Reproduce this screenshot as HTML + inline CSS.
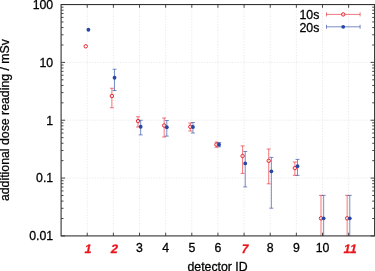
<!DOCTYPE html>
<html lang="en"><head><meta charset="utf-8"><title>additional dose reading per detector</title>
<style>html,body{margin:0;padding:0;background:#fff;overflow:hidden}body{width:375px;height:271px}</style></head>
<body>
<svg width="375" height="271" viewBox="0 0 375 271" style="display:block">
<rect width="375" height="271" fill="#fff"/>
<path d="M87.24 4.55 V235.91 M113.38 4.55 V235.91 M139.52 4.55 V235.91 M165.66 4.55 V235.91 M191.80 4.55 V235.91 M217.94 4.55 V235.91 M244.08 4.55 V235.91 M270.22 4.55 V235.91 M296.36 4.55 V235.91 M322.50 4.55 V235.91 M348.64 4.55 V235.91 M61.1 62.39 H374.60 M61.1 120.23 H374.60 M61.1 178.07 H374.60" stroke="#d4d4d4" stroke-width="0.5" stroke-dasharray="1.3 1.5" fill="none"/>
<path d="M87.24 235.91 v-3.2 M87.24 4.55 v3.2 M113.38 235.91 v-3.2 M113.38 4.55 v3.2 M139.52 235.91 v-3.2 M139.52 4.55 v3.2 M165.66 235.91 v-3.2 M165.66 4.55 v3.2 M191.80 235.91 v-3.2 M191.80 4.55 v3.2 M217.94 235.91 v-3.2 M217.94 4.55 v3.2 M244.08 235.91 v-3.2 M244.08 4.55 v3.2 M270.22 235.91 v-3.2 M270.22 4.55 v3.2 M296.36 235.91 v-3.2 M296.36 4.55 v3.2 M322.50 235.91 v-3.2 M322.50 4.55 v3.2 M348.64 235.91 v-3.2 M348.64 4.55 v3.2 M61.1 4.55 h4 M374.60 4.55 h-4 M61.1 62.39 h4 M374.60 62.39 h-4 M61.1 120.23 h4 M374.60 120.23 h-4 M61.1 178.07 h4 M374.60 178.07 h-4 M61.1 235.91 h4 M374.60 235.91 h-4 M61.1 218.50 h2.4 M374.60 218.50 h-2.4 M61.1 208.31 h2.4 M374.60 208.31 h-2.4 M61.1 201.09 h2.4 M374.60 201.09 h-2.4 M61.1 195.48 h2.4 M374.60 195.48 h-2.4 M61.1 190.90 h2.4 M374.60 190.90 h-2.4 M61.1 187.03 h2.4 M374.60 187.03 h-2.4 M61.1 183.68 h2.4 M374.60 183.68 h-2.4 M61.1 180.72 h2.4 M374.60 180.72 h-2.4 M61.1 160.66 h2.4 M374.60 160.66 h-2.4 M61.1 150.47 h2.4 M374.60 150.47 h-2.4 M61.1 143.25 h2.4 M374.60 143.25 h-2.4 M61.1 137.64 h2.4 M374.60 137.64 h-2.4 M61.1 133.06 h2.4 M374.60 133.06 h-2.4 M61.1 129.19 h2.4 M374.60 129.19 h-2.4 M61.1 125.84 h2.4 M374.60 125.84 h-2.4 M61.1 122.88 h2.4 M374.60 122.88 h-2.4 M61.1 102.82 h2.4 M374.60 102.82 h-2.4 M61.1 92.63 h2.4 M374.60 92.63 h-2.4 M61.1 85.41 h2.4 M374.60 85.41 h-2.4 M61.1 79.80 h2.4 M374.60 79.80 h-2.4 M61.1 75.22 h2.4 M374.60 75.22 h-2.4 M61.1 71.35 h2.4 M374.60 71.35 h-2.4 M61.1 68.00 h2.4 M374.60 68.00 h-2.4 M61.1 65.04 h2.4 M374.60 65.04 h-2.4 M61.1 44.98 h2.4 M374.60 44.98 h-2.4 M61.1 34.79 h2.4 M374.60 34.79 h-2.4 M61.1 27.57 h2.4 M374.60 27.57 h-2.4 M61.1 21.96 h2.4 M374.60 21.96 h-2.4 M61.1 17.38 h2.4 M374.60 17.38 h-2.4 M61.1 13.51 h2.4 M374.60 13.51 h-2.4 M61.1 10.16 h2.4 M374.60 10.16 h-2.4 M61.1 7.20 h2.4 M374.60 7.20 h-2.4" stroke="#333" stroke-width="0.9" fill="none"/>
<path d="M111.88 88.25 V107.75 M109.88 88.25 h4 M109.88 107.75 h4 M138.02 116.75 V127.00 M136.02 116.75 h4 M136.02 127.00 h4 M164.16 118.00 V137.00 M162.16 118.00 h4 M162.16 137.00 h4 M190.30 123.00 V131.00 M188.30 123.00 h4 M188.30 131.00 h4 M216.44 142.10 V147.20 M214.44 142.10 h4 M214.44 147.20 h4 M242.58 145.90 V173.40 M240.58 145.90 h4 M240.58 173.40 h4 M268.72 149.00 V183.80 M266.72 149.00 h4 M266.72 183.80 h4 M294.86 162.00 V175.30 M292.86 162.00 h4 M292.86 175.30 h4 M321.00 195.35 V235.91 M319.00 195.35 h4 M347.14 195.35 V235.91 M345.14 195.35 h4" stroke="#e8242e" stroke-width="0.62" fill="none"/><circle cx="85.74" cy="46.30" r="1.72" fill="#fff" fill-opacity="0.55" stroke="#e8242e" stroke-width="0.98"/><circle cx="111.88" cy="96.00" r="1.72" fill="#fff" fill-opacity="0.55" stroke="#e8242e" stroke-width="0.98"/><circle cx="138.02" cy="121.10" r="1.72" fill="#fff" fill-opacity="0.55" stroke="#e8242e" stroke-width="0.98"/><circle cx="164.16" cy="125.50" r="1.72" fill="#fff" fill-opacity="0.55" stroke="#e8242e" stroke-width="0.98"/><circle cx="190.30" cy="126.80" r="1.72" fill="#fff" fill-opacity="0.55" stroke="#e8242e" stroke-width="0.98"/><circle cx="216.44" cy="144.60" r="1.72" fill="#fff" fill-opacity="0.55" stroke="#e8242e" stroke-width="0.98"/><circle cx="242.58" cy="156.00" r="1.72" fill="#fff" fill-opacity="0.55" stroke="#e8242e" stroke-width="0.98"/><circle cx="268.72" cy="160.80" r="1.72" fill="#fff" fill-opacity="0.55" stroke="#e8242e" stroke-width="0.98"/><circle cx="294.86" cy="168.10" r="1.72" fill="#fff" fill-opacity="0.55" stroke="#e8242e" stroke-width="0.98"/><circle cx="321.00" cy="218.30" r="1.72" fill="#fff" fill-opacity="0.55" stroke="#e8242e" stroke-width="0.98"/><circle cx="347.14" cy="218.30" r="1.72" fill="#fff" fill-opacity="0.55" stroke="#e8242e" stroke-width="0.98"/>
<path d="M114.53 69.25 V90.50 M112.53 69.25 h4 M112.53 90.50 h4 M140.67 120.25 V134.90 M138.67 120.25 h4 M138.67 134.90 h4 M166.81 120.50 V136.10 M164.81 120.50 h4 M164.81 136.10 h4 M192.95 122.50 V133.00 M190.95 122.50 h4 M190.95 133.00 h4 M219.09 142.50 V146.80 M217.09 142.50 h4 M217.09 146.80 h4 M245.23 151.50 V186.90 M243.23 151.50 h4 M243.23 186.90 h4 M271.37 157.40 V208.20 M269.37 157.40 h4 M269.37 208.20 h4 M297.51 159.40 V175.40 M295.51 159.40 h4 M295.51 175.40 h4 M323.65 195.35 V235.91 M321.65 195.35 h4 M349.79 195.35 V235.91 M347.79 195.35 h4" stroke="#2747a4" stroke-width="0.62" fill="none"/><circle cx="88.39" cy="29.75" r="1.9" fill="#2747a4"/><circle cx="114.53" cy="77.75" r="1.9" fill="#2747a4"/><circle cx="140.67" cy="126.75" r="1.9" fill="#2747a4"/><circle cx="166.81" cy="127.25" r="1.9" fill="#2747a4"/><circle cx="192.95" cy="127.00" r="1.9" fill="#2747a4"/><circle cx="219.09" cy="144.60" r="1.9" fill="#2747a4"/><circle cx="245.23" cy="163.40" r="1.9" fill="#2747a4"/><circle cx="271.37" cy="171.30" r="1.9" fill="#2747a4"/><circle cx="297.51" cy="166.20" r="1.9" fill="#2747a4"/><circle cx="323.65" cy="218.30" r="1.9" fill="#2747a4"/><circle cx="349.79" cy="218.30" r="1.9" fill="#2747a4"/>
<rect x="61.1" y="4.55" width="313.50" height="231.36" fill="none" stroke="#333" stroke-width="1.1"/>
<path d="M326.5 14.4 H360.1 M326.5 12.4 v4 M360.1 12.4 v4" stroke="#e8242e" stroke-width="0.62" fill="none"/>
<circle cx="343.2" cy="14.4" r="1.72" fill="#fff" fill-opacity="0.55" stroke="#e8242e" stroke-width="0.98"/>
<path d="M326.5 26.8 H360.1 M326.5 24.8 v4 M360.1 24.8 v4" stroke="#2747a4" stroke-width="0.62" fill="none"/>
<circle cx="343.2" cy="26.8" r="1.9" fill="#2747a4"/>
<g font-family="'Liberation Sans', Arial, Helvetica, sans-serif" font-size="12.3" fill="#000" stroke="#000" stroke-width="0.28">
<text x="319.3" y="18.7" text-anchor="end">10s</text>
<text x="319.3" y="31.5" text-anchor="end">20s</text>
<text x="53.2" y="8.85" text-anchor="end">100</text>
<text x="53.2" y="66.69" text-anchor="end">10</text>
<text x="53.2" y="124.53" text-anchor="end">1</text>
<text x="53.2" y="182.37" text-anchor="end">0.1</text>
<text x="53.2" y="240.21" text-anchor="end">0.01</text>
<text transform="translate(87.44 252.6) skewX(-12)" text-anchor="middle" font-weight="bold" fill="#e8141c" stroke="#e8141c" stroke-width="0.3">1</text>
<text transform="translate(113.58 252.6) skewX(-12)" text-anchor="middle" font-weight="bold" fill="#e8141c" stroke="#e8141c" stroke-width="0.3">2</text>
<text x="139.52" y="252.3" text-anchor="middle">3</text>
<text x="165.66" y="252.3" text-anchor="middle">4</text>
<text x="191.80" y="252.3" text-anchor="middle">5</text>
<text x="217.94" y="252.3" text-anchor="middle">6</text>
<text transform="translate(244.28 252.6) skewX(-12)" text-anchor="middle" font-weight="bold" fill="#e8141c" stroke="#e8141c" stroke-width="0.3">7</text>
<text x="270.22" y="252.3" text-anchor="middle">8</text>
<text x="296.36" y="252.3" text-anchor="middle">9</text>
<text x="322.50" y="252.3" text-anchor="middle">10</text>
<text transform="translate(349.54 252.6) skewX(-12)" text-anchor="middle" font-weight="bold" fill="#e8141c" stroke="#e8141c" stroke-width="0.3">11</text>
<text x="217.6" y="270.9" text-anchor="middle">detector ID</text>
<text transform="translate(9.2 120.1) rotate(-90)" text-anchor="middle">additional dose reading / mSv</text>
</g></svg>
</body></html>
